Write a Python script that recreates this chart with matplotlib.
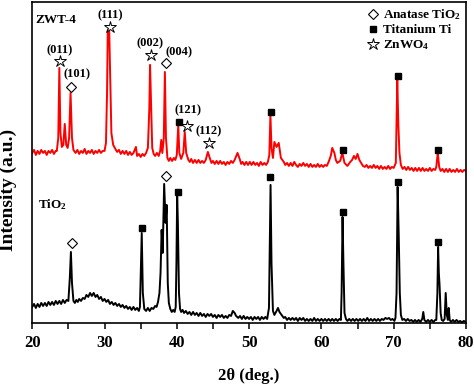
import matplotlib
matplotlib.use("Agg")
import matplotlib.pyplot as plt
from matplotlib.lines import Line2D
from matplotlib.ticker import MultipleLocator

plt.rcParams['font.family'] = ['Liberation Serif', 'DejaVu Serif']
plt.rcParams['font.weight'] = 'bold'
plt.rcParams['mathtext.fontset'] = 'custom'
plt.rcParams['mathtext.rm'] = 'Liberation Serif:bold'
plt.rcParams['mathtext.it'] = 'Liberation Serif:bold'
plt.rcParams['mathtext.bf'] = 'Liberation Serif:bold'

# ---- ZWT-4 pattern (2theta, intensity a.u.) ----
zwt_pts = [
    (20.0, 170), (20.25, 173), (20.5, 168), (20.75, 172), (21.0, 169), (21.25, 173),
    (21.5, 170), (21.75, 172), (22.0, 168), (22.25, 172), (22.5, 170), (22.75, 173),
    (23.0, 169), (23.25, 172), (23.4, 172), (23.6, 185), (23.75, 255), (23.9, 190),
    (24.1, 176), (24.3, 178), (24.5, 199), (24.7, 178), (24.9, 175), (25.1, 185),
    (25.3, 230), (25.5, 185), (25.7, 173), (26.0, 170), (26.25, 173), (26.5, 169),
    (26.75, 172), (27.0, 170), (27.25, 174), (27.5, 169), (27.75, 172), (28.0, 170),
    (28.25, 173), (28.5, 169), (28.75, 172), (29.0, 170), (29.25, 173), (29.5, 170),
    (29.75, 172), (30.0, 172), (30.2, 180), (30.35, 230), (30.45, 293), (30.65, 293),
    (30.8, 240), (30.95, 190), (31.2, 178), (31.5, 174), (31.75, 171), (32.0, 173),
    (32.25, 169), (32.5, 172), (32.75, 169), (33.0, 172), (33.25, 168), (33.5, 171),
    (33.75, 168), (34.0, 170), (34.35, 176), (34.5, 167), (34.75, 169), (35.0, 166),
    (35.25, 169), (35.5, 167), (35.75, 170), (36.0, 175), (36.2, 215), (36.3, 258),
    (36.45, 215), (36.6, 175), (36.8, 169), (37.0, 167), (37.25, 170), (37.5, 167),
    (37.7, 172), (37.85, 183), (38.0, 170), (38.2, 185), (38.35, 251), (38.5, 185),
    (38.7, 165), (38.9, 162), (39.1, 165), (39.35, 162), (39.6, 165), (39.8, 163),
    (40.0, 168), (40.2, 198), (40.35, 170), (40.6, 164), (40.9, 170), (41.1, 191),
    (41.3, 170), (41.6, 163), (41.8, 161), (42.0, 164), (42.25, 160), (42.5, 163),
    (42.75, 160), (43.0, 163), (43.25, 160), (43.5, 162), (43.75, 160), (44.0, 163),
    (44.3, 171), (44.6, 164), (44.8, 160), (45.0, 162), (45.25, 159), (45.5, 162),
    (45.75, 159), (46.0, 162), (46.25, 159), (46.5, 161), (46.75, 158), (47.0, 161),
    (47.25, 159), (47.5, 162), (47.75, 160), (48.0, 163), (48.4, 170), (48.7, 164),
    (48.9, 159), (49.1, 161), (49.35, 158), (49.6, 161), (49.85, 158), (50.1, 161),
    (50.35, 158), (50.6, 161), (50.85, 158), (51.1, 160), (51.35, 157), (51.6, 161),
    (51.85, 158), (52.1, 160), (52.35, 158), (52.6, 161), (52.8, 168), (52.95, 208),
    (53.1, 175), (53.3, 165), (53.5, 181), (53.8, 176), (54.1, 180), (54.4, 165),
    (54.8, 161), (55.0, 158), (55.25, 160), (55.5, 157), (55.75, 160), (56.0, 157),
    (56.25, 161), (56.5, 158), (56.75, 156), (57.0, 159), (57.25, 157), (57.5, 160),
    (57.75, 157), (58.0, 159), (58.25, 156), (58.5, 159), (58.75, 156), (59.0, 158),
    (59.25, 156), (59.5, 159), (59.75, 156), (60.0, 158), (60.25, 156), (60.5, 158),
    (60.75, 157), (61.0, 161), (61.3, 167), (61.5, 175), (61.8, 170), (62.0, 163),
    (62.2, 160), (62.6, 162), (62.9, 170), (63.2, 160), (63.6, 157), (63.8, 159),
    (64.0, 161), (64.25, 163), (64.5, 167), (64.75, 164), (65.0, 169), (65.25, 163),
    (65.5, 160), (65.75, 157), (66.0, 156), (66.25, 158), (66.5, 155), (66.75, 157),
    (67.0, 155), (67.25, 158), (67.5, 155), (67.75, 157), (68.0, 154), (68.25, 157),
    (68.5, 154), (68.75, 156), (69.0, 154), (69.25, 157), (69.5, 154), (69.75, 156),
    (70.0, 155), (70.3, 160), (70.5, 243), (70.65, 198), (70.8, 170), (71.0, 158),
    (71.25, 154), (71.5, 156), (71.75, 153), (72.0, 156), (72.25, 153), (72.5, 155),
    (72.75, 152), (73.0, 155), (73.25, 152), (73.5, 155), (73.75, 152), (74.0, 155),
    (74.25, 152), (74.5, 154), (74.75, 152), (75.0, 155), (75.25, 152), (75.5, 154),
    (75.75, 153), (75.9, 156), (76.1, 170), (76.3, 156), (76.5, 152), (76.75, 154),
    (77.0, 151), (77.25, 154), (77.5, 151), (77.75, 154), (78.0, 151), (78.25, 153),
    (78.5, 151), (78.75, 154), (79.0, 151), (79.25, 153), (79.5, 151), (79.75, 153),
    (80.0, 152),
]

# ---- TiO2 pattern ----
tio2_pts = [
    (20.0, 16), (20.25, 19), (20.5, 15), (20.75, 19), (21.0, 16), (21.25, 20),
    (21.5, 17), (21.75, 20), (22.0, 17), (22.25, 21), (22.5, 18), (22.75, 21),
    (23.0, 18), (23.25, 22), (23.5, 19), (23.75, 22), (24.0, 19), (24.25, 23),
    (24.5, 20), (24.75, 23), (25.0, 22), (25.2, 45), (25.35, 71), (25.5, 40),
    (25.7, 22), (25.9, 20), (26.1, 23), (26.3, 21), (26.5, 24), (26.75, 22),
    (27.0, 25), (27.25, 24), (27.5, 28), (27.75, 26), (28.0, 30), (28.25, 27),
    (28.5, 30), (28.75, 26), (29.0, 28), (29.25, 24), (29.5, 26), (29.75, 22),
    (30.0, 24), (30.25, 21), (30.5, 23), (30.75, 19), (31.0, 21), (31.25, 18),
    (31.5, 20), (31.75, 17), (32.0, 19), (32.25, 16), (32.5, 18), (32.75, 15),
    (33.0, 17), (33.25, 14), (33.5, 16), (33.75, 13), (34.0, 16), (34.25, 13),
    (34.5, 15), (34.75, 12), (34.9, 16), (35.05, 60), (35.15, 90), (35.3, 30),
    (35.5, 14), (35.75, 12), (36.0, 15), (36.25, 12), (36.5, 15), (36.75, 14),
    (37.0, 17), (37.2, 16), (37.4, 21), (37.6, 30), (37.75, 50), (37.9, 93),
    (38.05, 70), (38.25, 139), (38.45, 100), (38.6, 118), (38.75, 40), (38.9, 20),
    (39.1, 14), (39.3, 11), (39.5, 13), (39.7, 11), (39.85, 16), (39.95, 60),
    (40.05, 128), (40.15, 100), (40.3, 30), (40.45, 14), (40.6, 11), (40.8, 13),
    (41.0, 10), (41.25, 12), (41.5, 9), (41.75, 11), (42.0, 8), (42.25, 11),
    (42.5, 8), (42.75, 10), (43.0, 7), (43.25, 10), (43.5, 7), (43.75, 9),
    (44.0, 6), (44.25, 9), (44.5, 7), (44.75, 9), (45.0, 6), (45.25, 8),
    (45.5, 5), (45.75, 8), (46.0, 6), (46.25, 8), (46.5, 5), (46.75, 7),
    (47.0, 5), (47.25, 8), (47.5, 7), (47.75, 12), (48.0, 10), (48.2, 7),
    (48.5, 5), (48.75, 7), (49.0, 4), (49.25, 7), (49.5, 4), (49.75, 6),
    (50.0, 4), (50.25, 6), (50.5, 3), (50.75, 6), (51.0, 4), (51.25, 6),
    (51.5, 3), (51.75, 6), (52.0, 4), (52.25, 6), (52.5, 4), (52.75, 15),
    (52.9, 100), (52.97, 138), (53.1, 60), (53.3, 12), (53.5, 8), (53.8, 12),
    (54.0, 15), (54.2, 11), (54.4, 9), (54.6, 7), (54.8, 5), (55.0, 6),
    (55.25, 3), (55.5, 5), (55.75, 3), (56.0, 5), (56.25, 3), (56.5, 5),
    (56.75, 2), (57.0, 5), (57.25, 3), (57.5, 5), (57.75, 2), (58.0, 4),
    (58.25, 2), (58.5, 4), (58.75, 2), (59.0, 5), (59.25, 2), (59.5, 4),
    (59.75, 2), (60.0, 4), (60.25, 2), (60.5, 4), (60.75, 2), (61.0, 4),
    (61.25, 2), (61.5, 4), (61.75, 2), (62.0, 4), (62.25, 2), (62.5, 4),
    (62.7, 3), (62.8, 30), (62.93, 106), (63.05, 60), (63.2, 10), (63.4, 4),
    (63.6, 2), (63.85, 4), (64.1, 2), (64.35, 4), (64.6, 2), (64.85, 4),
    (65.1, 2), (65.35, 4), (65.6, 2), (65.85, 4), (66.1, 2), (66.35, 5),
    (66.6, 2), (66.85, 4), (67.1, 2), (67.35, 4), (67.6, 2), (67.85, 4),
    (68.1, 2), (68.35, 4), (68.6, 3), (68.85, 5), (69.1, 4), (69.35, 5),
    (69.6, 3), (69.85, 4), (70.1, 2), (70.25, 5), (70.4, 30), (70.55, 136),
    (70.7, 88), (70.85, 30), (71.0, 8), (71.2, 3), (71.45, 4), (71.7, 2),
    (71.95, 4), (72.2, 2), (72.45, 3), (72.7, 1), (72.95, 3), (73.2, 1),
    (73.45, 3), (73.7, 1), (73.95, 4), (74.1, 11), (74.25, 3), (74.5, 1),
    (74.75, 3), (75.0, 1), (75.25, 3), (75.5, 1), (75.75, 3), (75.9, 3),
    (76.05, 30), (76.15, 76), (76.25, 50), (76.35, 38), (76.5, 10), (76.65, 3),
    (76.85, 2), (77.05, 4), (77.2, 30), (77.35, 8), (77.5, 3), (77.62, 15),
    (77.75, 3), (77.95, 1), (78.2, 3), (78.45, 1), (78.7, 3), (78.95, 1),
    (79.2, 2), (79.45, 0.5), (79.7, 2), (80.0, 1),
]
zwt_x, zwt_y = zip(*zwt_pts)
tio2_x, tio2_y = zip(*tio2_pts)

# ---- phase markers ----
star_x = [23.78, 30.75, 36.38, 41.44, 44.40]
star_y = [262, 296, 268, 197, 180]
diamond_x = [25.31, 38.45, 25.45, 38.45]
diamond_y = [236, 260, 80, 147]
square_x = [40.29, 52.97, 62.93, 70.54, 76.07, 35.13, 40.19, 52.95, 63.0, 70.6, 76.15]
square_y = [201, 211, 173, 247, 173, 95, 131, 146, 111, 141, 81]

# ---- (hkl) labels ----
hkl_text = ['(011)', '(101)', '(111)', '(002)', '(004)', '(121)', '(112)']
hkl_x = [23.83, 26.18, 30.75, 36.28, 40.29, 41.54, 44.44]
hkl_y = [273, 249, 308, 280, 271, 213, 192]

fig = plt.figure(figsize=(4.74, 3.84), dpi=100)
ax = fig.add_axes([0.068, 0.159, 0.915, 0.836])

ax.plot(zwt_x, zwt_y, color='#ff0000', lw=1.4)
ax.plot(tio2_x, tio2_y, color='black', lw=1.4)

ax.plot(star_x, star_y, ls='none', marker='*', ms=9, mfc='white', mec='black', mew=0.7)
ax.plot(diamond_x, diamond_y, ls='none', marker='D', ms=5.5, mfc='white', mec='black', mew=0.8)
ax.plot(square_x, square_y, ls='none', marker='s', ms=4, mfc='black', mec='black')

for t, x, y in zip(hkl_text, hkl_x, hkl_y):
    ax.text(x, y, t, ha='center', va='center', fontsize=9, fontweight='bold')

ax.text(20.4, 303, 'ZWT-4', ha='left', va='center', fontsize=9.5, fontweight='bold')
ax.text(20.8, 118, 'TiO$_2$', ha='left', va='center', fontsize=9.5, fontweight='bold')

handles = [
    Line2D([], [], ls='none', marker='D', ms=5.5, mfc='white', mec='black', mew=0.8),
    Line2D([], [], ls='none', marker='s', ms=4, mfc='black', mec='black'),
    Line2D([], [], ls='none', marker='*', ms=9, mfc='white', mec='black', mew=0.7),
]
labels = ['Anatase TiO$_2$', 'Titanium Ti', 'ZnWO$_4$']
ax.legend(handles, labels, loc='upper right', frameon=False, fontsize=9.5,
          handlelength=0.8, handletextpad=0.3, labelspacing=0.15,
          borderaxespad=0.2, borderpad=0.2)

ax.set_xlim(20, 80)
ax.set_ylim(0, 321)
ax.xaxis.set_major_locator(MultipleLocator(10))
ax.xaxis.set_minor_locator(MultipleLocator(5))
ax.tick_params(axis='x', which='both', direction='out', length=4, width=1.1,
               labelsize=12, pad=5)
ax.set_yticks([])
for s in ax.spines.values():
    s.set_linewidth(1.2)

ax.set_xlabel('2θ (deg.)', fontsize=12, fontweight='bold', labelpad=12)
ax.set_ylabel('Intensity (a.u.)', fontsize=14, fontweight='bold')
ax.yaxis.set_label_coords(-0.036, 0.414)

fig.savefig('out.png', dpi=100)
